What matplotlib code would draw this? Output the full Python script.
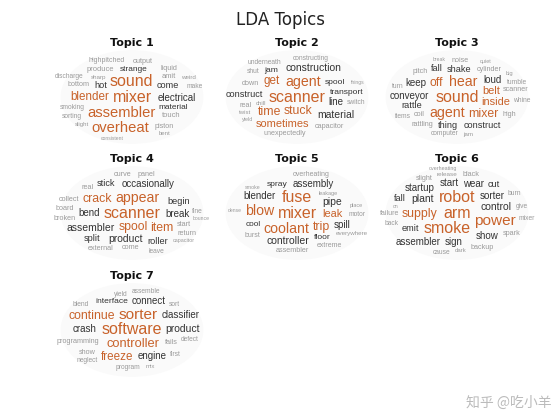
import math
import matplotlib
matplotlib.use("Agg")
import matplotlib.pyplot as plt
from matplotlib.patches import Ellipse

topic_titles = ["Topic 1", "Topic 2", "Topic 3", "Topic 4", "Topic 5", "Topic 6", "Topic 7"]

t1_words = ["mixer", "sound", "assembler", "overheat", "blender", "electrical", "come", "hot",
            "material", "strange", "touch", "amit", "produce", "bottom", "piston", "liquid", "output",
            "highpitched", "smoking", "make", "sorting", "discharge", "sharp", "weird", "slight", "bent", "consistent"]
t1_weights = [10, 10, 9, 9, 6.5, 5, 4.5, 4.5, 3.8, 3.8, 3.2, 3.2, 3.2, 3, 3, 3, 3, 2.8, 2.5, 2.5, 2.5, 2.5, 2.2, 2.2, 2, 2, 1.2]

t2_words = ["scanner", "agent", "stuck", "time", "get", "sometimes", "construction", "material", "line",
            "construct", "transport", "spool", "jam", "down", "real", "capacitor", "unexpectedly", "constructing",
            "underneath", "switch", "shut", "twist", "chill", "yield", "things"]
t2_weights = [10, 8.5, 7, 7, 6.5, 6, 5.5, 5.5, 5, 4.5, 4, 4, 4, 3, 3, 3, 3, 2.5, 2.5, 2.5, 2.5, 2, 2, 1.5, 1.2]

t3_words = ["sound", "hear", "agent", "mixer", "off", "inside", "belt", "conveyor", "loud", "keep",
            "shake", "rattle", "thing", "construct", "fall", "coil", "cylinder", "rattling", "scanner", "pitch",
            "high", "noise", "computer", "tumble", "whine", "items", "turn", "jam", "big", "quiet", "break"]
t3_weights = [10, 8.5, 8.5, 7, 7, 6, 6, 5, 5, 5, 4.5, 4.5, 4.5, 4.5, 4.5, 3, 3, 3, 3, 3, 3, 3, 2.5, 2.5, 2.5, 2.5, 2.5, 2.2, 1.8, 1.5, 1.2]

t4_words = ["scanner", "appear", "spool", "crack", "item", "assembler", "product", "occasionally", "bend",
            "break", "begin", "roller", "stick", "split", "come", "start", "real", "return", "panel", "curve",
            "collect", "board", "external", "broken", "leave", "fine", "capacitor", "bounce"]
t4_weights = [10, 8.5, 7, 7, 7, 5.5, 5.5, 5, 5, 5, 4.5, 4.5, 4.5, 4.5, 3, 3, 3, 3, 3, 3, 3, 3, 3, 3, 2.5, 2.5, 1.5, 1.3]

t5_words = ["mixer", "fuse", "coolant", "blow", "trip", "leak", "controller", "pipe", "blender", "assembly",
            "spill", "floor", "spray", "cool", "assembler", "burst", "extreme", "overheating", "motor",
            "everywhere", "leakage", "place", "smoke", "dense"]
t5_weights = [10, 10, 8.5, 8.5, 7, 6, 5.5, 5.5, 5, 5, 5, 4, 4, 3.8, 3, 2.8, 2.8, 2.8, 2.5, 2.2, 1.6, 1.6, 1.4, 1.2]

t6_words = ["arm", "robot", "smoke", "power", "supply", "control", "sorter", "plant", "sign", "show", "wear",
            "start", "startup", "emit", "cut", "assembler", "fall", "backup", "spark", "black", "slight", "cause",
            "give", "burn", "mixer", "release", "failure", "back", "dark", "overheating", "on"]
t6_weights = [10, 10, 10, 9.5, 7, 5.5, 5, 5.5, 5, 5, 5, 5, 5, 4.5, 4.5, 5, 4.5, 3, 3, 3, 3, 2.5, 2.5, 2.5, 2.5, 2.3, 2.8, 2.5, 2, 1.5, 1.2]

t7_words = ["software", "sorter", "controller", "continue", "freeze", "product", "crash", "connect",
            "engine", "classifier", "interface", "programming", "fails", "show", "first", "defect", "program",
            "yield", "assemble", "sort", "blend", "neglect", "mix"]
t7_weights = [10, 9.5, 7.5, 7, 6.5, 5.5, 5, 5, 5, 5, 4, 3, 3, 3, 2.5, 2.5, 2.5, 2.5, 2.5, 2.5, 2.5, 2.5, 2]

topic_words = [t1_words, t2_words, t3_words, t4_words, t5_words, t6_words, t7_words]
topic_weights = [t1_weights, t2_weights, t3_weights, t4_weights, t5_weights, t6_weights, t7_weights]

ORANGE = "#c8622a"
DARK = "#333333"
LIGHT = "#9a9a9a"

W, H = 560, 420
fig = plt.figure(figsize=(5.6, 4.2), dpi=100)
fig.text(0.5, 1 - 20 / H, "LDA Topics", ha="center", va="center", fontsize=12, color="#222222")

col_cx = [132, 297, 457]
row_top = [52, 168, 285]
aw, ah = 145, 90
renderer = fig.canvas.get_renderer()

def overlap(a, b):
    return not (a.x1 <= b.x0 or b.x1 <= a.x0 or a.y1 <= b.y0 or b.y1 <= a.y0)

for i, (title, words, weights) in enumerate(zip(topic_titles, topic_words, topic_weights)):
    r, c = divmod(i, 3)
    left = (col_cx[c] - aw / 2) / W
    bottom = 1 - (row_top[r] + ah) / H
    ax = fig.add_axes([left, bottom, aw / W, ah / H])
    ax.set_xlim(-1, 1)
    ax.set_ylim(-1, 1)
    ax.axis("off")
    ax.set_title(title, fontsize=8, fontweight="bold", pad=4, color="#111111")
    ax.add_patch(Ellipse((0, 0), 1.95, 2.05, color="#fafafa", zorder=0, clip_on=False))
    axbb = ax.get_window_extent(renderer)
    placed = []
    order = sorted(range(len(words)), key=lambda k: -weights[k])
    for k in order:
        w = weights[k]
        fs = 2.5 + w * 0.9
        col = ORANGE if w >= 6 else (DARK if w >= 3.8 else LIGHT)
        t = ax.text(0, 0, words[k], fontsize=fs, color=col, ha="center", va="center",
                    fontfamily="Liberation Sans")
        theta = 0.0
        ok = False
        for step in range(4000):
            rad = 0.011 * theta
            x = rad * math.cos(theta)
            y = rad * math.sin(theta) * 0.95
            t.set_position((x, y))
            bb = t.get_window_extent(renderer)
            pb = bb.expanded(1.0 + 5.0 / max(bb.width, 1), 1.0 + 1.0 / max(bb.height, 1))
            inside = bb.x0 >= axbb.x0 - 6 and bb.x1 <= axbb.x1 + 6 and bb.y0 >= axbb.y0 - 2 and bb.y1 <= axbb.y1 + 2
            if inside and not any(overlap(pb, p) for p in placed):
                placed.append(bb)
                ok = True
                break
            theta += 0.12
        if not ok:
            t.set_fontsize(fs * 0.7)

fig.text(0.985, 0.04, "知乎 @吃小羊", ha="right", va="center", fontsize=10, color="#bbbbbb",
         family=["Noto Sans CJK SC", "DejaVu Sans"])

fig.savefig("out.png", dpi=100)
